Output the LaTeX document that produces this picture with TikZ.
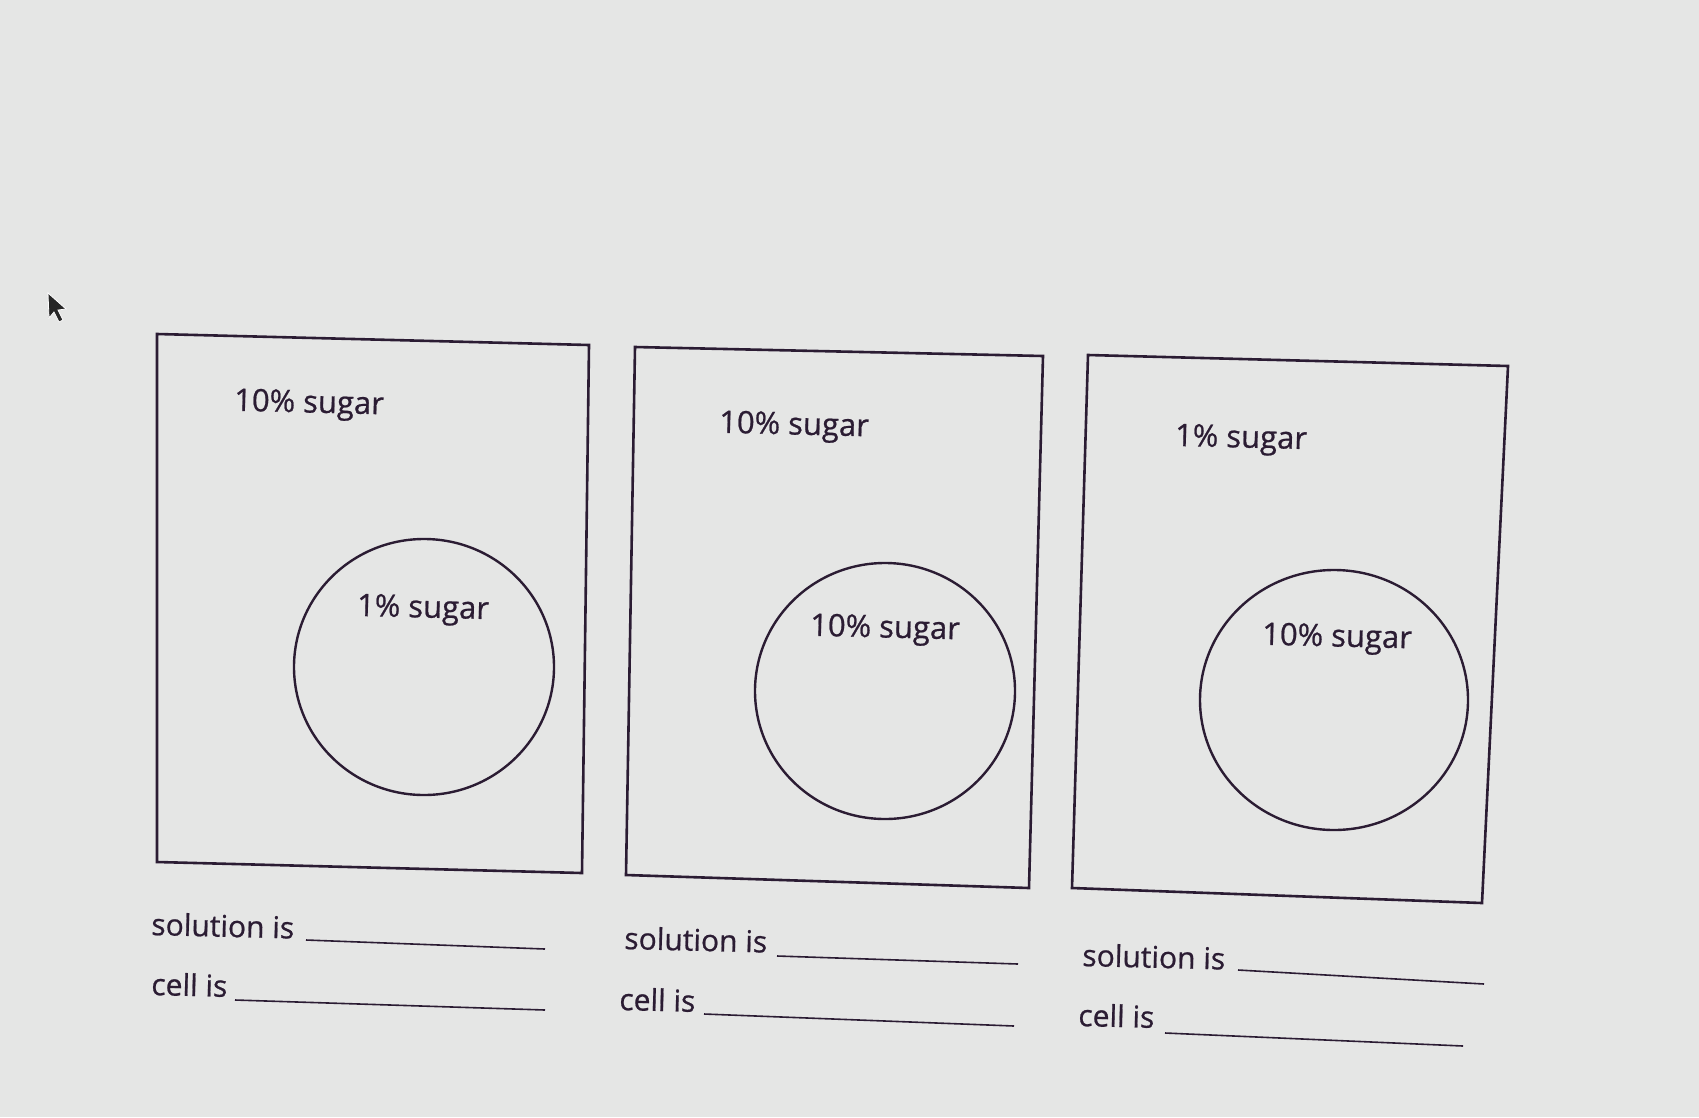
\documentclass[tikz,border=0pt]{standalone}
\usepackage{fontspec}
\setmainfont{Open Sans}[FakeBold=0.7]
\definecolor{screen}{HTML}{E5E6E5}
\definecolor{ink}{HTML}{2B1C33}
\newcommand{\lbl}{\fontsize{31}{36}\selectfont}
\newcommand{\ans}{\fontsize{30}{36}\selectfont}

\begin{document}
\begin{tikzpicture}[x=1pt,y=-1pt,
  frame/.style={draw=ink,line width=2.6pt,line join=miter},
  cell/.style={draw=ink,line width=2.4pt},
  sugar/.style={text=ink,font=\lbl,inner sep=0pt,rotate=-1.4},
  blank/.style={text=ink,font=\ans,inner sep=0pt,anchor=base west,rotate=-1.4},
  rule/.style={draw=ink,line width=1.6pt}]
\useasboundingbox (0,0) rectangle (1699,1117);
\fill[screen] (0,0) rectangle (1699,1117);

% mouse pointer
\filldraw[fill=black!85,draw=white,line width=0.8pt]
  (48,293) -- (49,318) -- (54,312) -- (59,322) -- (63,320) -- (58,310) -- (66,309) -- cycle;

% first box
\coordinate (a1) at (157,334);
\coordinate (a2) at (589,345);
\coordinate (a3) at (582,873);
\coordinate (a4) at (157,862);
\draw[frame] (a1) -- (a2) -- (a3) -- (a4) -- cycle;
\draw[cell] (424,667) ellipse [x radius=130,y radius=128];
\node[sugar] (outA) at (309,405) {10\% sugar};
\node[sugar] (inA) at (423,610) {1\% sugar};

% second box
\coordinate (b1) at (635,347);
\coordinate (b2) at (1043,356);
\coordinate (b3) at (1029,888);
\coordinate (b4) at (626,875);
\draw[frame] (b1) -- (b2) -- (b3) -- (b4) -- cycle;
\draw[cell] (885,691) ellipse [x radius=130,y radius=128];
\node[sugar] (outB) at (794,427) {10\% sugar};
\node[sugar] (inB) at (885,630) {10\% sugar};

% third box
\coordinate (c1) at (1088,355);
\coordinate (c2) at (1508,366);
\coordinate (c3) at (1482,903);
\coordinate (c4) at (1072,888);
\draw[frame] (c1) -- (c2) -- (c3) -- (c4) -- cycle;
\draw[cell] (1334,700) ellipse [x radius=134,y radius=130];
\node[sugar] (outC) at (1241,440) {1\% sugar};
\node[sugar] (inC) at (1337,639) {10\% sugar};

% answer lines
\node[blank] (solA) at (151,935) {solution is};
\node[blank] (celA) at (151,995) {cell is};
\coordinate (sA1) at (306,940); \coordinate (sA2) at (545,949);
\coordinate (cA1) at (235,1000); \coordinate (cA2) at (545,1010);
\draw[rule] (sA1) -- (sA2);
\draw[rule] (cA1) -- (cA2);

\node[blank] (solB) at (624,949) {solution is};
\node[blank] (celB) at (619,1010) {cell is};
\coordinate (sB1) at (777,956); \coordinate (sB2) at (1018,964);
\coordinate (cB1) at (704,1014); \coordinate (cB2) at (1014,1026);
\draw[rule] (sB1) -- (sB2);
\draw[rule] (cB1) -- (cB2);

\node[blank] (solC) at (1082,966) {solution is};
\node[blank] (celC) at (1078,1026) {cell is};
\coordinate (sC1) at (1238,970); \coordinate (sC2) at (1484,984);
\coordinate (cC1) at (1165,1033); \coordinate (cC2) at (1463,1046);
\draw[rule] (sC1) -- (sC2);
\draw[rule] (cC1) -- (cC2);
\end{tikzpicture}
\end{document}
